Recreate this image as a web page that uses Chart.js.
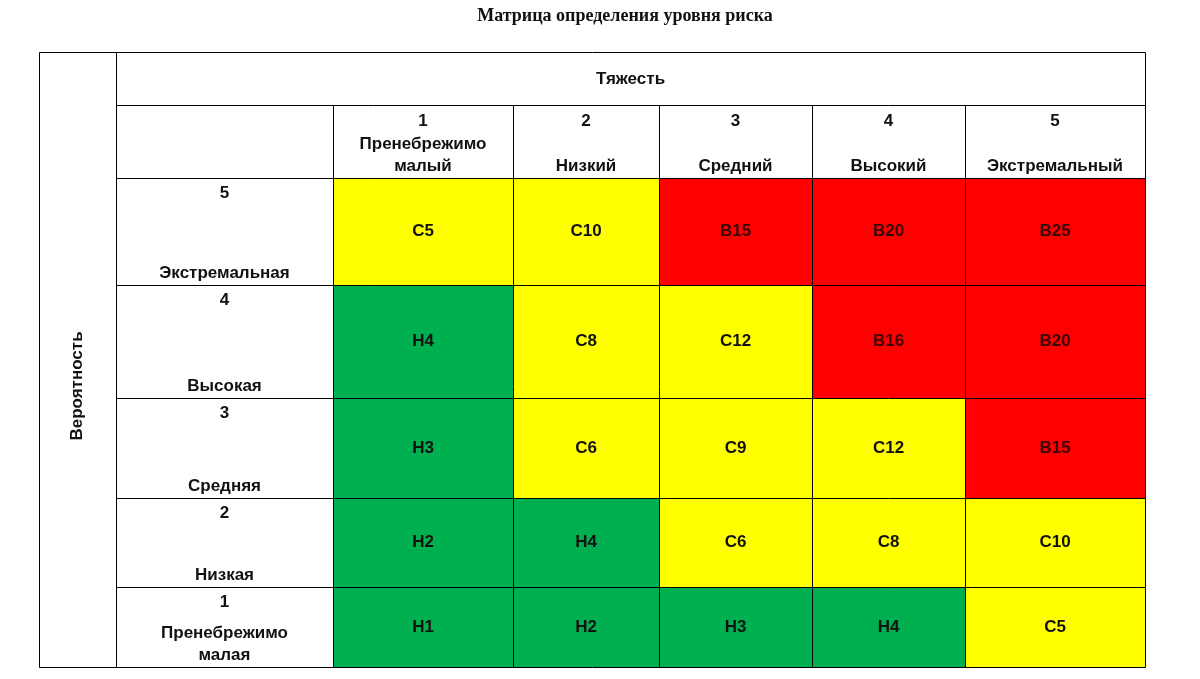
<!DOCTYPE html>
<html><head><meta charset="utf-8">
<script src="https://cdn.jsdelivr.net/npm/chart.js@4"></script>
<style>html,body{margin:0;padding:0;background:#fff}#w{width:1200px;height:679px}</style>
</head><body><div id="w"><canvas id="c"></canvas></div>
<script>
const title = 'Матрица определения уровня риска';
const severityTitle = 'Тяжесть';
const probabilityTitle = 'Вероятность';
const severityNums = ['1','2','3','4','5'];
const severityNames = [['Пренебрежимо','малый'],['Низкий'],['Средний'],['Высокий'],['Экстремальный']];
const probabilityNums = ['5','4','3','2','1'];
const probabilityNames = [['Экстремальная'],['Высокая'],['Средняя'],['Низкая'],['Пренебрежимо','малая']];
const row5 = ['C5','C10','B15','B20','B25'];
const row4 = ['H4','C8','C12','B16','B20'];
const row3 = ['H3','C6','C9','C12','B15'];
const row2 = ['H2','H4','C6','C8','C10'];
const row1 = ['H1','H2','H3','H4','C5'];
const cellCodes = [row5,row4,row3,row2,row1];

// layout (pixel-unit scale values)
const colEdges = [39,116,333,513,659,812,965,1145];
const rowEdges = [52,105,178,285,398,498,587,667];
const levelColor = {H:'#00B050', C:'#FFFF00', B:'#FF0000'};
const levelText = {H:'#111', C:'#111', B:'#3a0505'};

const tablePlugin = {
  id:'table',
  afterDatasetsDraw(chart){
    const ctx = chart.ctx, xs = chart.scales.x, ys = chart.scales.y;
    const X = v=>xs.getPixelForValue(v), Y = v=>ys.getPixelForValue(v);
    ctx.save();
    const font = 'bold 17px "Liberation Sans", Arial, sans-serif';
    ctx.textAlign='center'; ctx.textBaseline='middle';
    // cells
    cellCodes.forEach((row,r)=>row.forEach((code,c)=>{
      const x0=X(colEdges[c+2]), x1=X(colEdges[c+3]), y0=Y(rowEdges[r+2]), y1=Y(rowEdges[r+3]);
      ctx.fillStyle=levelColor[code[0]]; ctx.fillRect(x0,y0,x1-x0,y1-y0);
      ctx.fillStyle=levelText[code[0]]; ctx.font=font;
      ctx.fillText(code.replace('H','Н').replace('C','С').replace('B','В'),(x0+x1)/2,(y0+y1)/2);
    }));
    // grid lines
    ctx.strokeStyle='#000'; ctx.lineWidth=1;
    const line=(a,b,c,d)=>{ctx.beginPath();ctx.moveTo(Math.round(a)+0.5,Math.round(b)+0.5);ctx.lineTo(Math.round(c)+0.5,Math.round(d)+0.5);ctx.stroke();};
    const L=X(colEdges[0]), R=X(colEdges[7]), T=Y(rowEdges[0]), B=Y(rowEdges[7]);
    line(L,T,R,T); line(L,B,R,B); line(L,T,L,B); line(R,T,R,B);
    line(X(colEdges[1]),T,X(colEdges[1]),B);
    line(X(colEdges[1]),Y(rowEdges[1]),R,Y(rowEdges[1]));
    for(let i=2;i<7;i++) line(X(colEdges[i]),Y(rowEdges[1]),X(colEdges[i]),B);
    for(let j=2;j<7;j++) line(X(colEdges[1]),Y(rowEdges[j]),R,Y(rowEdges[j]));
    // headers
    ctx.fillStyle='#111'; ctx.font=font;
    ctx.fillText(severityTitle,(X(colEdges[1])+R)/2,(T+Y(rowEdges[1]))/2+1);
    ctx.save(); ctx.translate((L+X(colEdges[1]))/2, (Y(rowEdges[1])+B)/2); ctx.rotate(-Math.PI/2);
    ctx.fillText(probabilityTitle,0,0); ctx.restore();
    severityNums.forEach((n,c)=>{
      const cx=(X(colEdges[c+2])+X(colEdges[c+3]))/2;
      const y0=Y(rowEdges[1]), y1=Y(rowEdges[2]);
      ctx.fillText(n,cx,y0+16);
      const names=severityNames[c];
      names.forEach((t,k)=>ctx.fillText(t,cx,y1-12-(names.length-1-k)*22));
    });
    probabilityNums.forEach((n,r)=>{
      const cx=(X(colEdges[1])+X(colEdges[2]))/2;
      const y0=Y(rowEdges[r+2]), y1=Y(rowEdges[r+3]);
      ctx.fillText(n,cx,y0+15);
      const names=probabilityNames[r];
      names.forEach((t,k)=>ctx.fillText(t,cx,y1-12-(names.length-1-k)*22));
    });
    // title
    ctx.font='bold 18px "Liberation Serif", "Times New Roman", serif';
    ctx.fillText(title,625,16);
    ctx.restore();
  }
};

new Chart(document.getElementById('c'),{
  type:'scatter',
  data:{datasets:[{data:[],pointRadius:0}]},
  options:{
    responsive:true, maintainAspectRatio:false, animation:false,
    layout:{padding:0},
    plugins:{legend:{display:false},tooltip:{enabled:false}},
    scales:{
      x:{type:'linear',min:0,max:1200,display:false},
      y:{type:'linear',min:0,max:679,reverse:true,display:false}
    }
  },
  plugins:[tablePlugin]
});
</script></body></html>
